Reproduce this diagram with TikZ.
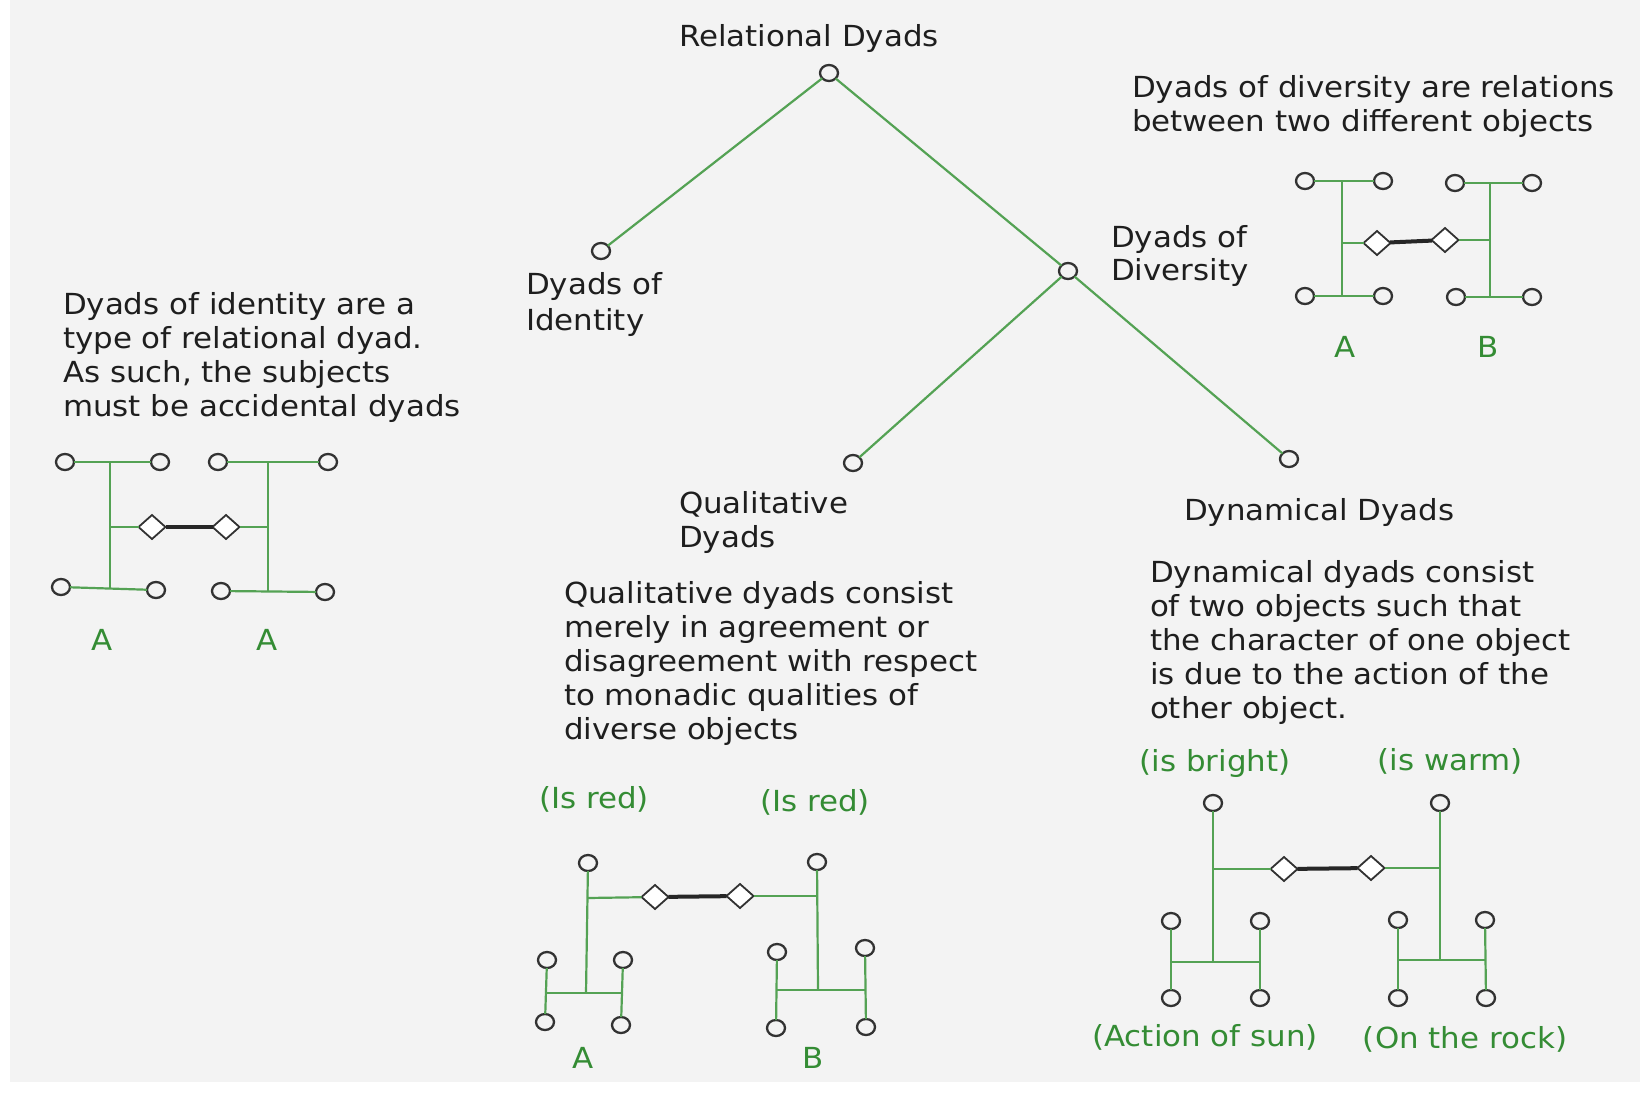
\documentclass[tikz,border=0pt]{standalone}
\usepackage{fontspec}
\setmainfont[FakeStretch=1.065]{DejaVu Sans}
\usetikzlibrary{shapes.geometric}
\definecolor{bggrey}{RGB}{243,243,243}
\definecolor{lgreen}{RGB}{84,162,84}
\definecolor{tgreen}{RGB}{52,140,52}
\definecolor{txt}{RGB}{30,30,30}
\definecolor{ring}{RGB}{50,50,50}
\tikzset{
 every node/.style={inner sep=0pt, outer sep=0pt},
 dot/.style={ellipse, draw=ring, fill=bggrey, line width=2.3pt, minimum width=18pt, minimum height=16pt},
 dia/.style={diamond, draw=ring, fill=white, line width=1.8pt, minimum width=27pt, minimum height=24pt},
 gl/.style={draw=lgreen, line width=2.2pt},
 bl/.style={draw=black!85, line width=4pt},
 body/.style={text=txt, font=\fontsize{29}{34}\selectfont, anchor=base west},
 glab/.style={text=tgreen, font=\fontsize{29}{34}\selectfont, anchor=base},
}
\begin{document}
\begin{tikzpicture}[x=1pt,y=-1pt]
\useasboundingbox (0,0) rectangle (1643,1096);
\fill[white] (0,0) rectangle (1643,1096);
\fill[bggrey] (10,0) rectangle (1640,1082);

% ---------- tree ----------
\node[dot] (root) at (829,73) {};
\node[dot] (ident) at (601,251) {};
\node[dot] (divers) at (1068,271) {};
\node[dot] (qual) at (853,463) {};
\node[dot] (dyn) at (1289,459) {};
\draw[gl] (root) -- (ident);
\draw[gl] (root) -- (divers);
\draw[gl] (divers) -- (qual);
\draw[gl] (divers) -- (dyn);

\node[body,anchor=base] (lroot) at (809,46) {Relational Dyads};
\node[body] (lident) at (526,294) {\begin{tabular}[t]{@{}l@{}}Dyads of\\[2pt]Identity\end{tabular}};
\node[body] (ldivers) at (1111,247) {\begin{tabular}[t]{@{}l@{}}Dyads of\\[-1pt]Diversity\end{tabular}};
\node[body] (lqual) at (679,513) {\begin{tabular}[t]{@{}l@{}}Qualitative\\Dyads\end{tabular}};
\node[body] (ldyn) at (1184,520) {Dynamical Dyads};

% ---------- text blocks ----------
\node[body] (tdiv) at (1132,97) {\begin{tabular}[t]{@{}l@{}}Dyads of diversity are relations\\between two different objects\end{tabular}};
\node[body] (tident) at (63,314) {\begin{tabular}[t]{@{}l@{}}Dyads of identity are a\\type of relational dyad.\\As such, the subjects\\must be accidental dyads\end{tabular}};
\node[body] (tqual) at (564,603) {\begin{tabular}[t]{@{}l@{}}Qualitative dyads consist\\merely in agreement or\\disagreement with respect\\to monadic qualities of\\diverse objects\end{tabular}};
\node[body] (tdyn) at (1150,582) {\begin{tabular}[t]{@{}l@{}}Dynamical dyads consist\\of two objects such that\\the character of one object\\is due to the action of the\\other object.\end{tabular}};

% ---------- identity diagram ----------
\node[dot] (iLtl) at (65,462) {};
\node[dot] (iLtr) at (160,462) {};
\node[dot] (iLbl) at (61,587) {};
\node[dot] (iLbr) at (156,590) {};
\node[dia] (iLd) at (152,527) {};
\coordinate (iLjt) at (110,462);
\coordinate (iLjb) at (110,588);
\coordinate (iLjm) at (110,527);
\draw[gl] (iLtl) -- (iLtr);
\draw[gl] (iLbl) -- (iLbr);
\draw[gl] (iLjt) -- (iLjb);
\draw[gl] (iLjm) -- (iLd);
\node[dot] (iRtl) at (218,462) {};
\node[dot] (iRtr) at (328,462) {};
\node[dot] (iRbl) at (221,591) {};
\node[dot] (iRbr) at (325,592) {};
\node[dia] (iRd) at (226,527) {};
\coordinate (iRjt) at (268,462);
\coordinate (iRjb) at (268,591);
\coordinate (iRjm) at (268,527);
\draw[gl] (iRtl) -- (iRtr);
\draw[gl] (iRbl) -- (iRbr);
\draw[gl] (iRjt) -- (iRjb);
\draw[gl] (iRjm) -- (iRd);
\draw[bl] (iLd) -- (iRd);
\node[glab] (iLa) at (102,650) {A};
\node[glab] (iRa) at (267,650) {A};

% ---------- diversity diagram ----------
\node[dot] (dLtl) at (1305,181) {};
\node[dot] (dLtr) at (1383,181) {};
\node[dot] (dLbl) at (1305,296) {};
\node[dot] (dLbr) at (1383,296) {};
\node[dia] (dLd) at (1377,243) {};
\coordinate (dLjt) at (1342,181);
\coordinate (dLjb) at (1342,296);
\coordinate (dLjm) at (1342,243);
\draw[gl] (dLtl) -- (dLtr);
\draw[gl] (dLbl) -- (dLbr);
\draw[gl] (dLjt) -- (dLjb);
\draw[gl] (dLjm) -- (dLd);
\node[dot] (dRtl) at (1455,183) {};
\node[dot] (dRtr) at (1532,183) {};
\node[dot] (dRbl) at (1456,297) {};
\node[dot] (dRbr) at (1532,297) {};
\node[dia] (dRd) at (1445,240) {};
\coordinate (dRjt) at (1490,183);
\coordinate (dRjb) at (1490,297);
\coordinate (dRjm) at (1490,240);
\draw[gl] (dRtl) -- (dRtr);
\draw[gl] (dRbl) -- (dRbr);
\draw[gl] (dRjt) -- (dRjb);
\draw[gl] (dRjm) -- (dRd);
\draw[bl] (dLd) -- (dRd);
\node[glab] (dLa) at (1345,357) {A};
\node[glab] (dRb) at (1488,357) {B};

% ---------- qualitative diagram ----------
\node[glab] (qLred) at (594,808) {(Is red)};
\node[glab] (qRred) at (815,811) {(Is red)};
\node[dot] (qAt) at (588,863) {};
\node[dia] (qAd) at (655,897) {};
\coordinate (qAjm) at (587,898);
\coordinate (qAjb) at (586,993);
\draw[gl] (qAt) -- (qAjb);
\draw[gl] (qAjm) -- (qAd);
\node[dot] (qAtl) at (547,960) {};
\node[dot] (qAbl) at (545,1022) {};
\node[dot] (qAtr) at (623,960) {};
\node[dot] (qAbr) at (621,1025) {};
\draw[gl] (qAtl) -- (qAbl);
\draw[gl] (qAtr) -- (qAbr);
\coordinate (qAcl) at (545.5,993);
\coordinate (qAcr) at (622,993);
\draw[gl] (qAcl) -- (qAcr);
\node[dot] (qBt) at (817,862) {};
\node[dia] (qBd) at (740,896) {};
\coordinate (qBjm) at (818,896);
\coordinate (qBjb) at (818,990);
\draw[gl] (qBt) -- (qBjb);
\draw[gl] (qBd) -- (qBjm);
\node[dot] (qBtl) at (777,952) {};
\node[dot] (qBbl) at (776,1028) {};
\node[dot] (qBtr) at (865,948) {};
\node[dot] (qBbr) at (866,1027) {};
\draw[gl] (qBtl) -- (qBbl);
\draw[gl] (qBtr) -- (qBbr);
\coordinate (qBcl) at (776.5,990);
\coordinate (qBcr) at (865.5,990);
\draw[gl] (qBcl) -- (qBcr);
\draw[bl] (qAd) -- (qBd);
\node[glab] (qAa) at (583,1068) {A};
\node[glab] (qBb) at (813,1068) {B};

% ---------- dynamical diagram ----------
\node[glab] (yLlab) at (1215,771) {(is bright)};
\node[glab] (yRlab) at (1450,770) {(is warm)};
\node[dot] (yLt) at (1213,803) {};
\node[dia] (yLd) at (1284,869) {};
\coordinate (yLjm) at (1213,869);
\coordinate (yLjb) at (1213,962);
\draw[gl] (yLt) -- (yLjb);
\draw[gl] (yLjm) -- (yLd);
\node[dot] (yLtl) at (1171,921) {};
\node[dot] (yLbl) at (1171,998) {};
\node[dot] (yLtr) at (1260,921) {};
\node[dot] (yLbr) at (1260,998) {};
\draw[gl] (yLtl) -- (yLbl);
\draw[gl] (yLtr) -- (yLbr);
\coordinate (yLcl) at (1171,962);
\coordinate (yLcr) at (1260,962);
\draw[gl] (yLcl) -- (yLcr);
\node[dot] (yRt) at (1440,803) {};
\node[dia] (yRd) at (1371,868) {};
\coordinate (yRjm) at (1440,868);
\coordinate (yRjb) at (1440,960);
\draw[gl] (yRt) -- (yRjb);
\draw[gl] (yRd) -- (yRjm);
\node[dot] (yRtl) at (1398,920) {};
\node[dot] (yRbl) at (1398,998) {};
\node[dot] (yRtr) at (1485,920) {};
\node[dot] (yRbr) at (1486,998) {};
\draw[gl] (yRtl) -- (yRbl);
\draw[gl] (yRtr) -- (yRbr);
\coordinate (yRcl) at (1398,960);
\coordinate (yRcr) at (1485.5,960);
\draw[gl] (yRcl) -- (yRcr);
\draw[bl] (yLd) -- (yRd);
\node[glab] (yLbot) at (1205,1046) {(Action of sun)};
\node[glab] (yRbot) at (1465,1048) {(On the rock)};
\end{tikzpicture}
\end{document}
